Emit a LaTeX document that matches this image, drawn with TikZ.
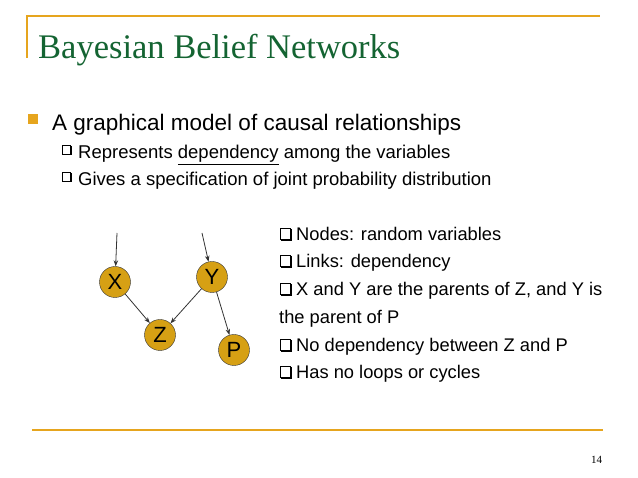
\documentclass[tikz,border=0pt]{standalone}
\usepackage{fontspec}
\setmainfont{Liberation Sans}
\newfontfamily\titlefont{Liberation Serif}
\usetikzlibrary{arrows.meta}
\definecolor{frameor}{RGB}{230,165,30}
\definecolor{ttl}{RGB}{20,100,50}
\definecolor{nodefill}{RGB}{214,160,20}
\begin{document}
\begin{tikzpicture}[x=1pt,y=-1pt,
  bn/.style={circle,draw=black!80,fill=nodefill,minimum size=31pt,inner sep=0pt,font=\fontsize{22}{22}\selectfont},
  ar/.style={-{Stealth[length=6pt,width=4.5pt]},draw=black!80,line width=0.8pt},
  hb/.style={draw=black,line width=0.6pt,fill=white},
  txt/.style={anchor=base west,inner sep=0pt}]
\useasboundingbox (0,0) rectangle (638,478);
\draw[draw=frameor,line width=1.3pt] (27,58) -- (27,16) -- (600,16);
\draw[draw=frameor,line width=1.3pt] (32,430) -- (603,430);
\node[txt,text=ttl,font=\titlefont\fontsize{34.5}{34.5}\selectfont] (title) at (38,59) {Bayesian Belief Networks};
\fill[frameor] (28,114) rectangle (38,124);
\node[txt,font=\fontsize{22.5}{22.5}\selectfont] (b1) at (52,131) {A graphical model of causal relationships};
\draw[hb] (62,145) rectangle (70,154); \draw[line width=1pt] (71,146) -- (71,155) -- (63,155);
\node[txt,font=\fontsize{18.5}{18.5}\selectfont] (b2) at (78,159) {Represents \underline{dependency} among the variables};
\draw[hb] (62,172) rectangle (70,181); \draw[line width=1pt] (71,173) -- (71,182) -- (63,182);
\node[txt,font=\fontsize{18.5}{18.5}\selectfont] (b3) at (78,186) {Gives a specification of joint probability distribution};
\foreach \y/\t in {241/{Nodes: random variables},268/{Links: dependency},296/{X and Y are the parents of Z, and Y is},352/{No dependency between Z and P},379/{Has no loops or cycles}}{
  \draw[hb] (280,\y-13) rectangle (290,\y-2); \draw[line width=1.3pt] (291,\y-12) -- (291,\y-1) -- (281,\y-1);
  \node[txt,font=\fontsize{18.3}{18.3}\selectfont] at (296,\y) {\t};
}
\node[txt,font=\fontsize{18.3}{18.3}\selectfont] (cont) at (279,324) {the parent of P};
\node[bn] (X) at (115,282) {X};
\node[bn] (Y) at (212,277) {Y};
\node[bn] (Z) at (160,335) {Z};
\node[bn] (P) at (234,350) {P};
\coordinate (xin) at (117,233);
\coordinate (yin) at (202,233);
\draw[ar] (xin) -- (X);
\draw[ar] (yin) -- (Y);
\draw[ar] (X) -- (Z);
\draw[ar] (Y) -- (Z);
\draw[ar] (Y) -- (P);
\node[txt,font=\titlefont\fontsize{11}{11}\selectfont] (num) at (591,464) {14};
\end{tikzpicture}
\end{document}
